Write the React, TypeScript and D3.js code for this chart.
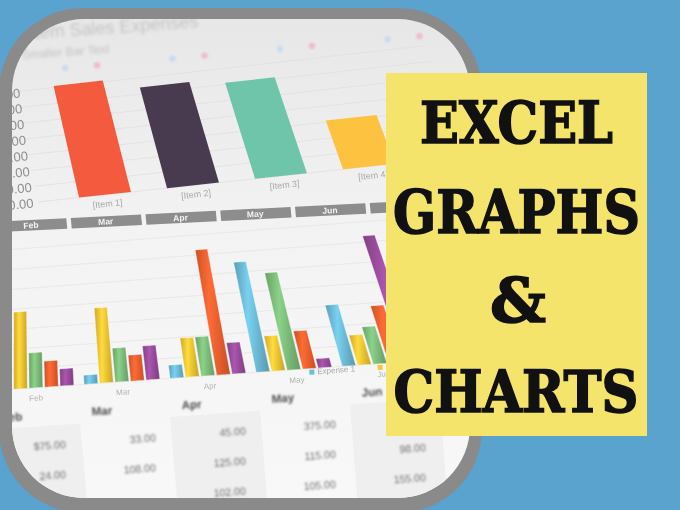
import * as d3 from 'd3';

// upper chart (bars on the photographed sheet)
const items = ['[Item 1]', '[Item 2]', '[Item 3]', '[Item 4]'];
const itemValues = [71, 64, 61, 31];
const itemColors = ['#f45a3d', '#4a3a4f', '#6ec5a9', '#fdc33f'];
const itemTicks = [0, 10, 20, 30, 40, 50, 60, 70];
const title = 'Item Sales Expenses';
const subtitle = 'Smaller Bar Text';

// month header strip
const headerMonths = ['Feb', 'Mar', 'Apr', 'May', 'Jun', 'Jul'];

// lower clustered chart
const months = ['Feb', 'Mar', 'Apr', 'May', 'Jun'];
const series = ['Expense 1', 'Expense 2', 'Expense 3', 'Expense 4', 'Expense 5'];
const expense1 = [30, 23, 33, 275, 153];
const expense2 = [193, 188, 98, 88, 75];
const expense3 = [88, 85, 98, 243, 93];
const expense4 = [65, 65, 313, 95, 143];
const expense5 = [43, 85, 78, 23, 315];
const seriesColors = ['#6dbcd8', '#f7c634', '#7dbd7b', '#f5602f', '#9a4c9d'];

// table under the chart
const tableRow1 = ['$75.00', '33.00', '45.00', '375.00', ''];
const tableRow2 = ['24.00', '108.00', '125.00', '115.00', '98.00'];
const tableRow3 = ['', '', '102.00', '105.00', '155.00'];

// headline
const headline = ['EXCEL', 'GRAPHS', '&', 'CHARTS'];

const sans = 'Liberation Sans, Arial, sans-serif';

export default function App() {
  const W = 680, H = 510;
  const line = d3.line();
  const poly = (pts: any) => line(pts) + 'Z';

  // perspective of the photo: baseline rises to the right, bars lean more to the right
  const topBase = (u: number) => 206 - 0.107 * u;
  const topLean = (u: number) => 0.19 + 0.00048 * u;
  const pTop = (u: number, v: number): [number, number] => [u - topLean(u) * v, topBase(u) - v];

  const lowBase = (u: number) => 390.3 - 0.07 * u;
  const lowLean = (u: number) => 0.00085 * (u - 15);
  const pLow = (u: number, v: number): [number, number] => [u - lowLean(u) * v, lowBase(u) - v];

  const xTop = d3.scaleBand().domain(items).range([61, 413]).paddingInner(0.41).paddingOuter(0.205);
  const yTop = d3.scaleLinear().domain([0, 70]).range([0, 110]);
  const markX = d3.scaleBand().domain(items).range([50, 480]);

  const x0 = d3.scaleBand().domain(months).range([-7, 423]).paddingInner(0.12).paddingOuter(0.06);
  const x1 = d3.scaleBand().domain(series).range([0, x0.bandwidth()]).paddingInner(0.12);
  const yLow = d3.scaleLinear().domain([0, 350]).range([0, 140]);
  const seriesValues = [expense1, expense2, expense3, expense4, expense5];
  const legendX = d3.scaleBand().domain(series).range([308, 648]);

  const hb = d3.scaleBand().domain(headerMonths).range([-4, 440]).paddingInner(0.06);
  const hbTop = (x: number) => 221.5 - 0.05 * x;

  const tX = d3.scaleBand().domain(months).range([-10, 440]);
  const headY = (u: number) => 422 - 0.07 * u;
  const rowY = (u: number, r: number) => 453 + r * 30 - 0.075 * u;
  const rows = [tableRow1, tableRow2, tableRow3];

  const rotTop = Math.atan(-0.107) * 180 / Math.PI;
  const rotLow = Math.atan(-0.07) * 180 / Math.PI;

  const bars: any[] = [];
  months.forEach((m, mi) => {
    series.forEach((s, si) => {
      const u0 = (x0(m) as number) + (x1(s) as number);
      const u1 = u0 + x1.bandwidth();
      const h = yLow(seriesValues[si][mi]);
      bars.push({ key: m + s, si, d: poly([pLow(u0, 0), pLow(u1, 0), pLow(u1, h), pLow(u0, h)]) });
    });
  });

  return (
    <svg width={W} height={H} style={{ position: 'absolute', left: 0, top: 0, display: 'block' }}>
      <defs>
        <clipPath id="sheet">
          <rect x={12} y={19} width={458} height={479} rx={72} />
        </clipPath>
        <linearGradient id="paper" x1="0" y1="0" x2="0" y2="1">
          <stop offset="0" stopColor="#e7e7e7" />
          <stop offset="0.45" stopColor="#f3f3f3" />
          <stop offset="1" stopColor="#f8f8f8" />
        </linearGradient>
        {seriesColors.map((c, i) => (
          <linearGradient key={i} id={'cyl' + i} x1="0" y1="0" x2="1" y2="0">
            <stop offset="0" stopColor={d3.color(c)!.darker(0.5).formatHex()} />
            <stop offset="0.4" stopColor={d3.color(c)!.brighter(0.3).formatHex()} />
            <stop offset="1" stopColor={d3.color(c)!.darker(0.6).formatHex()} />
          </linearGradient>
        ))}
        <filter id="b04"><feGaussianBlur stdDeviation="0.4" /></filter>
        <filter id="b07"><feGaussianBlur stdDeviation="0.7" /></filter>
        <filter id="b10"><feGaussianBlur stdDeviation="1.1" /></filter>
        <filter id="b15"><feGaussianBlur stdDeviation="1.6" /></filter>
      </defs>

      <rect x={0} y={0} width={W} height={H} fill="#5aa3cf" />
      <rect x={-1} y={8} width={483} height={505} rx={84} fill="#8a8a8a" />

      <g clipPath="url(#sheet)">
        <rect x={12} y={19} width={458} height={479} fill="url(#paper)" />

        {/* title */}
        <g filter="url(#b15)" fill="#c3c3c3" fontFamily={sans}>
          <text transform={`translate(30,39) rotate(-4)`} fontSize={18}>{title}</text>
          <text transform={`translate(22,59) rotate(-4)`} fontSize={12}>{subtitle}</text>
        </g>

        {/* legend dots above the upper chart */}
        <g filter="url(#b10)">
          {items.map((it) => {
            const a = (markX(it) as number) + 15;
            const b = (markX(it) as number) + 47;
            return (
              <g key={it}>
                <circle cx={a} cy={74 - 0.09 * a} r={3.2} fill="#c9dcee" />
                <circle cx={b} cy={74 - 0.09 * b} r={3.2} fill="#f0bccb" />
              </g>
            );
          })}
        </g>

        {/* upper chart grid and ticks */}
        <g filter="url(#b07)">
          {itemTicks.map((t) => {
            const v = yTop(t);
            const a = pTop(38, v), b = pTop(470, v);
            return (
              <g key={t}>
                <line x1={a[0]} y1={a[1]} x2={b[0]} y2={b[1]} stroke="#e0e0e0" strokeWidth={0.8} />
                <text transform={`translate(${34 - 0.12 * v},${topBase(34) - v + 5}) rotate(${rotTop})`} textAnchor="end"
                  fontFamily={sans} fontSize={13} fill="#8f8f8f">{'$' + t + '.00'}</text>
              </g>
            );
          })}
        </g>

        {/* upper chart bars */}
        <g filter="url(#b04)">
          {items.map((it, i) => {
            const u0 = xTop(it) as number;
            const u1 = u0 + xTop.bandwidth();
            const h = yTop(itemValues[i]);
            return <path key={it} d={poly([pTop(u0, 0), pTop(u1, 0), pTop(u1, h), pTop(u0, h)])} fill={itemColors[i]} />;
          })}
        </g>
        <g filter="url(#b07)">
          {items.map((it) => {
            const p = pTop((xTop(it) as number) + xTop.bandwidth() / 2, -12);
            return (
              <text key={it} transform={`translate(${p[0]},${p[1]}) rotate(${rotTop})`} textAnchor="middle"
                fontFamily={sans} fontSize={9} fill="#a8a8a8">{it}</text>
            );
          })}
        </g>

        {/* month header strip */}
        <g filter="url(#b04)">
          {headerMonths.map((m) => {
            const a = hb(m) as number, b = a + hb.bandwidth();
            const cx = (a + b) / 2;
            return (
              <g key={m}>
                <path d={poly([[a, hbTop(a)], [b, hbTop(b)], [b + 1, hbTop(b) + 10.5], [a + 1, hbTop(a) + 10.5]])} fill="#8d8d8d" />
                <text transform={`translate(${cx},${hbTop(cx) + 8.3}) rotate(-2.9)`} textAnchor="middle"
                  fontFamily={sans} fontSize={8.5} fontWeight="bold" fill="#f4f4f4">{m}</text>
              </g>
            );
          })}
        </g>

        {/* lower chart grid */}
        {yLow.ticks(9).map((t) => {
          const a = pLow(10, yLow(t)), b = pLow(470, yLow(t));
          return <line key={t} x1={a[0]} y1={a[1]} x2={b[0]} y2={b[1]} stroke="#e4e4e4" strokeWidth={0.8} />;
        })}

        {/* lower chart bars */}
        <g filter="url(#b04)">
          {bars.map((b) => (
            <path key={b.key} d={b.d} fill={`url(#cyl${b.si})`} stroke="#ffffff" strokeOpacity={0.6} strokeWidth={0.6} />
          ))}
        </g>

        <g filter="url(#b07)" fontFamily={sans}>
          {months.map((m) => {
            const p = pLow((x0(m) as number) + x0.bandwidth() / 2, -13);
            return (
              <text key={m} transform={`translate(${p[0]},${p[1]}) rotate(${rotLow})`} textAnchor="middle"
                fontSize={8} fill="#b3b3b3">{m}</text>
            );
          })}
          {series.map((s, i) => {
            const p = pLow(legendX(s) as number, -6);
            return (
              <g key={s} transform={`translate(${p[0]},${p[1]}) rotate(${rotLow})`}>
                <rect x={0} y={-5} width={5} height={5} fill={seriesColors[i]} />
                <text x={8} y={0} fontSize={8} fill="#a9a9a9">{s}</text>
              </g>
            );
          })}
        </g>

        {/* table */}
        {months.map((m, i) => {
          if (i % 2) return null;
          const a = tX(m) as number, b = a + tX.bandwidth();
          return <path key={m} d={poly([[a, headY(a) + 7], [b, headY(b) + 7], [b + 8, 510], [a + 8, 510]])} fill="#efefef" />;
        })}
        <g filter="url(#b10)" fontFamily={sans}>
          {months.map((m) => {
            const u = (tX(m) as number) + 12;
            return (
              <text key={m} transform={`translate(${u},${headY(u)}) rotate(${rotLow})`} fontSize={11.5}
                fontWeight="bold" fill="#4d4d4d">{m}</text>
            );
          })}
          {rows.map((row, r) => months.map((m, i) => {
            const u = (tX(m) as number) + 76;
            return (
              <text key={m + r} transform={`translate(${u},${rowY(u, r)}) rotate(${rotLow})`} textAnchor="end"
                fontSize={10.5} fill="#707070">{row[i]}</text>
            );
          }))}
        </g>
      </g>

      {/* headline card */}
      <rect x={386} y={73} width={261} height={363} fill="#f5e46b" />
      <g fontFamily="DejaVu Serif, serif" fontWeight="bold" fill="#111" stroke="#111" strokeWidth={1.6}
        textAnchor="middle">
        <text x={516.5} y={143} fontSize={57} textLength={193} lengthAdjust="spacingAndGlyphs">{headline[0]}</text>
        <text x={516.5} y={233} fontSize={59} textLength={247} lengthAdjust="spacingAndGlyphs">{headline[1]}</text>
        <text x={518} y={322} fontSize={62} textLength={56} lengthAdjust="spacingAndGlyphs">{headline[2]}</text>
        <text x={516} y={412} fontSize={58} textLength={245} lengthAdjust="spacingAndGlyphs">{headline[3]}</text>
      </g>
    </svg>
  );
}
